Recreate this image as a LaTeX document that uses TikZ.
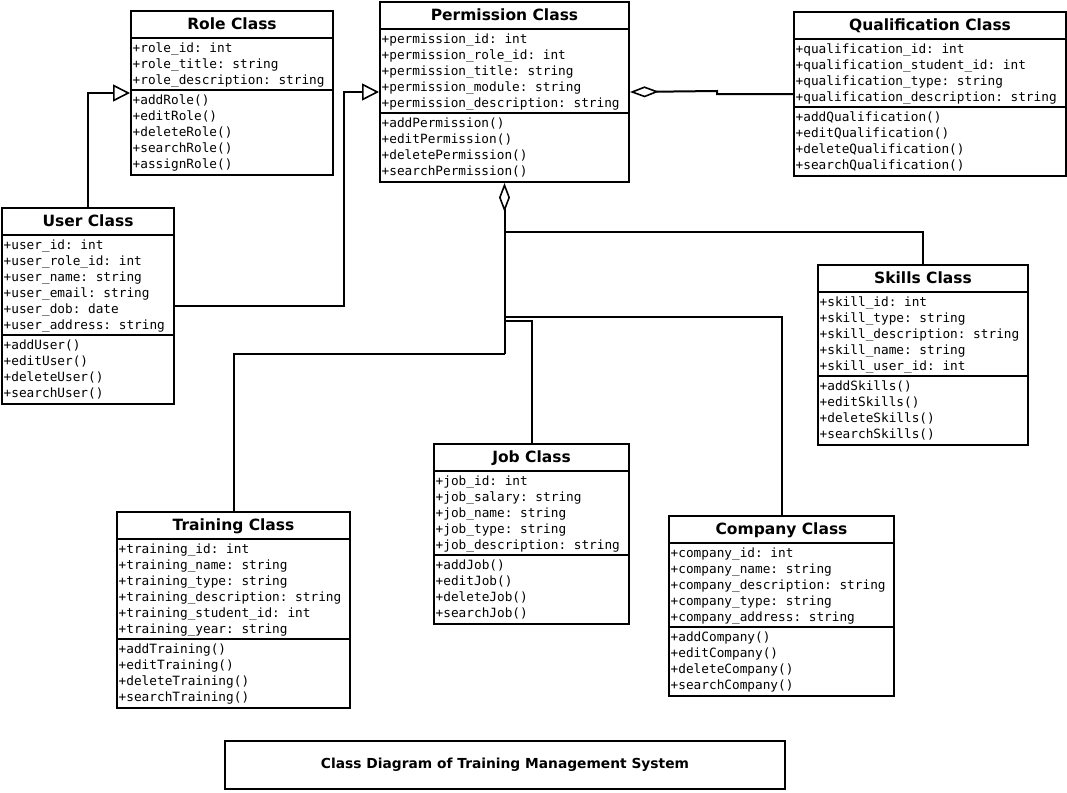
\documentclass[tikz,border=0pt]{standalone}
\usepackage{fontspec}
\setmainfont{DejaVu Sans}
\setmonofont{DejaVu Sans Mono}
\usetikzlibrary{arrows.meta,calc}
\tikzset{
  classbox/.style={draw=black, line width=2pt, fill=white, inner sep=0pt},
  classline/.style={draw=black, line width=2pt},
  classtitle/.style={inner sep=0pt, text height=11.3pt, text depth=0pt, font=\fontsize{15.5}{18}\selectfont\bfseries},
  member/.style={inner sep=0pt, text height=12pt, text depth=3pt, anchor=west, font=\fontsize{12.75}{16}\selectfont\ttfamily},
  conn/.style={draw=black, line width=2pt},
  gen/.style={conn, -{Triangle[open, length=17pt, width=17pt, line width=1.6pt]}},
  agg/.style={conn, {Diamond[open, length=29pt, width=11pt, line width=1.6pt]}-},
  titlebox/.style={draw=black, line width=2pt, inner sep=0pt, minimum width=560pt, minimum height=48pt, font=\fontsize{13.8}{16}\selectfont\bfseries}
}
% #1 name, #2 x, #3 y, #4 width, #5 title, #6 attrs, #7 methods, #8 nattr, #9 nmeth
\newcommand{\umlclass}[9]{%
  \pgfmathsetmacro{\ha}{16*#8+4}%
  \pgfmathsetmacro{\hm}{16*#9+4}%
  \pgfmathsetmacro{\htot}{28+\ha+\hm}%
  \node[classbox, minimum width=#4pt, minimum height=\htot pt, anchor=north west] (#1) at (#2,#3) {};
  \node[classtitle] (#1-t) at ($(#1.north)+(0,14)$) {#5};
  \draw[classline] ($(#1.north west)+(0,28)$) -- ($(#1.north east)+(0,28)$);
  \draw[classline] ($(#1.north west)+(0,28+\ha)$) -- ($(#1.north east)+(0,28+\ha)$);
  \foreach \t [count=\i from 0] in {#6} {\node[member] (#1-a\i) at ($(#1.north west)+(2.5,38+16*\i)$) {\t};}
  \foreach \t [count=\i from 0] in {#7} {\node[member] (#1-m\i) at ($(#1.north west)+(2.5,38+\ha+16*\i)$) {\t};}
}
\begin{document}
\begin{tikzpicture}[x=1pt, y=-1pt]
\useasboundingbox[fill=white] (0,0) rectangle (1067,792);

\umlclass{role}{130}{10}{202}{Role Class}
  {{+role\_id: int},{+role\_title: string},{+role\_description: string}}
  {{+addRole()},{+editRole()},{+deleteRole()},{+searchRole()},{+assignRole()}}{3}{5}

\umlclass{perm}{379}{1}{249}{Permission Class}
  {{+permission\_id: int},{+permission\_role\_id: int},{+permission\_title: string},{+permission\_module: string},{+permission\_description: string}}
  {{+addPermission()},{+editPermission()},{+deletePermission()},{+searchPermission()}}{5}{4}

\umlclass{qual}{793}{11}{272}{Qualification Class}
  {{+qualification\_id: int},{+qualification\_student\_id: int},{+qualification\_type: string},{+qualification\_description: string}}
  {{+addQualification()},{+editQualification()},{+deleteQualification()},{+searchQualification()}}{4}{4}

\umlclass{user}{1}{207}{172}{User Class}
  {{+user\_id: int},{+user\_role\_id: int},{+user\_name: string},{+user\_email: string},{+user\_dob: date},{+user\_address: string}}
  {{+addUser()},{+editUser()},{+deleteUser()},{+searchUser()}}{6}{4}

\umlclass{skills}{817}{264}{210}{Skills Class}
  {{+skill\_id: int},{+skill\_type: string},{+skill\_description: string},{+skill\_name: string},{+skill\_user\_id: int}}
  {{+addSkills()},{+editSkills()},{+deleteSkills()},{+searchSkills()}}{5}{4}

\umlclass{job}{433}{443}{195}{Job Class}
  {{+job\_id: int},{+job\_salary: string},{+job\_name: string},{+job\_type: string},{+job\_description: string}}
  {{+addJob()},{+editJob()},{+deleteJob()},{+searchJob()}}{5}{4}

\umlclass{training}{116}{511}{233}{Training Class}
  {{+training\_id: int},{+training\_name: string},{+training\_type: string},{+training\_description: string},{+training\_student\_id: int},{+training\_year: string}}
  {{+addTraining()},{+editTraining()},{+deleteTraining()},{+searchTraining()}}{6}{4}

\umlclass{company}{668}{515}{225}{Company Class}
  {{+company\_id: int},{+company\_name: string},{+company\_description: string},{+company\_type: string},{+company\_address: string}}
  {{+addCompany()},{+editCompany()},{+deleteCompany()},{+searchCompany()}}{5}{4}

\node[titlebox] (title) at (505,765) {Class Diagram of Training Management System};

% generalisations
\draw[gen] (user.north) |- (role.west);
\coordinate (ubend) at (344,92);
\draw[gen] (user.east) -| (ubend) -- (perm.west);

% aggregation to qualification
\coordinate (qbend) at (717,91);
\draw[agg] (perm.east) -- (qbend) |- (qual.west);

% aggregation tree below permission
\coordinate (hub) at ($(perm.south)+(0,171)$);
\coordinate (bS) at ($(perm.south)+(0,49)$);
\coordinate (bC) at ($(perm.south)+(0,134)$);
\coordinate (bJ) at ($(perm.south)+(0,138)$);
\draw[agg] (perm.south) -- (hub);
\draw[conn] (hub) -| (training.north);
\draw[conn] (bS) -| (skills.north);
\draw[conn] (bC) -| (company.north);
\draw[conn] (bJ) -| (job.north);
\end{tikzpicture}
\end{document}
